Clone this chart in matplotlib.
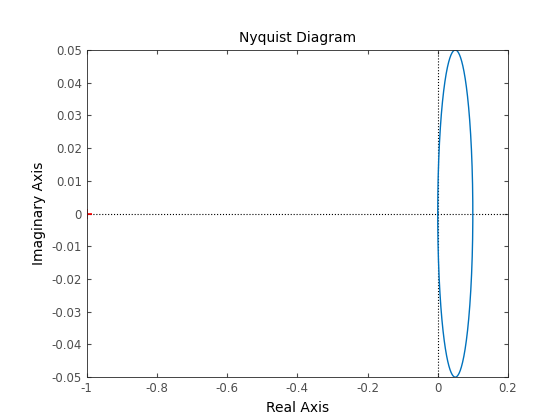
import numpy as np
import matplotlib
matplotlib.use("Agg")
import matplotlib.pyplot as plt

# transfer function G(s) = 0.1 / (s + 1)
num = [0.1]
den = [1.0, 1.0]
x_ticks = [-1, -0.8, -0.6, -0.4, -0.2, 0, 0.2]
y_ticks = [-0.05, -0.04, -0.03, -0.02, -0.01, 0, 0.01, 0.02, 0.03, 0.04, 0.05]

w = np.logspace(-3, 3, 2000)
w = np.concatenate([-w[::-1], w])
G = np.polyval(num, 1j * w) / np.polyval(den, 1j * w)

fig = plt.figure(figsize=(5.6, 4.2), dpi=100)
ax = fig.add_axes([0.155, 0.102, 0.752, 0.779])
ax.axhline(0, color="k", ls=":", lw=0.8)
ax.axvline(0, color="k", ls=":", lw=0.8)
ax.plot(G.real, G.imag, color="#0072BD", lw=1)
ax.plot([-1], [0], "+", color="r", ms=7, mew=1.2)

ax.set_xlim(-1, 0.2)
ax.set_ylim(-0.05, 0.05)
ax.set_xticks(x_ticks)
ax.set_xticklabels(["-1", "-0.8", "-0.6", "-0.4", "-0.2", "0", "0.2"])
ax.set_yticks(y_ticks)
ax.set_yticklabels(["-0.05", "-0.04", "-0.03", "-0.02", "-0.01", "0",
                    "0.01", "0.02", "0.03", "0.04", "0.05"])
ax.tick_params(direction="in", top=True, right=True, labelsize=8.5,
               colors="#4d4d4d", length=3)
for s in ax.spines.values():
    s.set_color("#262626")
    s.set_linewidth(0.6)
ax.set_xlabel("Real Axis", fontsize=10)
ax.set_ylabel("Imaginary Axis", fontsize=10)
ax.set_title("Nyquist Diagram", fontsize=10)
fig.savefig("out.png", dpi=100)
